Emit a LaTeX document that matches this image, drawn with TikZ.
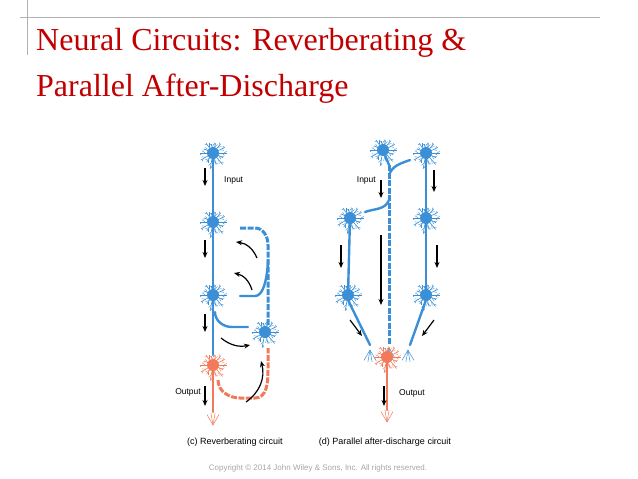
\documentclass[tikz,border=0pt]{standalone}
\usepackage{fontspec}
\setmainfont{Liberation Serif}
\newfontfamily\sans{Liberation Sans}
\usetikzlibrary{arrows.meta}
\definecolor{nblue}{HTML}{3A8FD6}
\definecolor{nred}{HTML}{F07A5A}
\definecolor{ttl}{HTML}{C00000}
\tikzset{
 axon/.style={line width=2.4pt,line cap=round},
 axdash/.style={line width=3pt,dash pattern=on 6pt off 1.5pt},
 flow/.style={-{Stealth[length=6pt,width=5pt]},line width=1.2pt,black},
 lbl/.style={font=\sans\fontsize{8.5}{10}\selectfont,inner sep=1pt},
 captext/.style={font=\sans\fontsize{9}{11}\selectfont,inner sep=1pt},
 neuron/.pic={
  \foreach \a/\l in {0/14,25/11,50/15,75/12,100/16,125/11,150/14,180/13,205/10,235/12,260/9,285/10,310/12,335/13}{
   \draw[line width=0.6pt] (0,0) -- (\a:\l);
   \draw[line width=0.4pt] (\a:0.6*\l) -- ++(\a+35:4);
   \draw[line width=0.4pt] (\a:0.8*\l) -- ++(\a-35:3);}
  \fill (0,0) circle (6pt);
 },
 tuft/.pic={\foreach \a in {60,80,100,120}{\draw[line width=0.5pt] (0,0) -- (\a:12);}}
}
\begin{document}
\begin{tikzpicture}[x=1pt,y=-1pt]
\useasboundingbox (0,0) rectangle (638,479);
\draw[gray!60,line width=0.7pt] (20,17) -- (600,17);
\draw[gray!60,line width=0.7pt] (27,0) -- (27,55);
\node[anchor=west,text=ttl,font=\fontsize{32}{36}\selectfont,inner sep=0] (t1) at (36,43) {Neural Circuits: Reverberating \&};
\node[anchor=west,text=ttl,font=\fontsize{32}{36}\selectfont,inner sep=0] (t2) at (36,89) {Parallel After-Discharge};

% ---------- left circuit (c)
\begin{scope}[nblue]
\draw[axon] (213,153) -- (213,355);
\draw[axdash] (268,325) -- (268,245) to[out=90,in=0] (255,228) -- (240,228);
\draw[axon] (268,262) to[out=90,in=0] (255,296) -- (240,296);
\draw[axon] (215,312) to[out=-90,in=180] (232,327) -- (248,327);
\pic at (213,153) {neuron}; \pic at (213,222) {neuron}; \pic at (213,295) {neuron}; \pic at (265,332) {neuron};
\end{scope}
\node (c1) at (213,153) {}; \node (c2) at (213,222) {}; \node (c3) at (213,295) {}; \node (c4) at (265,332) {};
\begin{scope}[nred]
\draw[axon] (213,365) -- (213,412);
\draw[axdash] (218,380) to[out=-90,in=180] (240,398) -- (255,398) to[out=0,in=-90] (268,370) -- (268,348);
\pic at (213,365) {neuron};
\pic[rotate=180] at (213,425) {tuft};
\end{scope}
\node (c5) at (213,365) {};
\draw[flow] (205,168) -- (205,186);
\draw[flow] (205,240) -- (205,258);
\draw[flow] (205,314) -- (205,332);
\draw[flow] (205,386) -- (205,406);
\draw[flow] (257,258) to[bend right=30] (236,242);
\draw[flow] (252,290) to[bend right=30] (234,273);
\draw[flow] (221,338) to[bend right=25] (250,345);
\draw[flow] (246,402) to[bend right=35] (261,361);
\node[lbl,anchor=west] (in1) at (223,180) {Input};
\node[lbl,anchor=east] (out1) at (202,392) {Output};
\node[captext] (capc) at (235,442) {(c) Reverberating circuit};

% ---------- right circuit (d)
\begin{scope}[nblue]
\draw[axdash] (389,165) -- (389,345);
\draw[axon] (383,150) -- (389,165);
\draw[axon] (389,200) to[out=-110,in=20] (365,212);
\draw[axon] (389,175) to[out=70,in=200] (410,160);
\draw[axon] (426,153) -- (426,218) -- (426,295);
\draw[axon] (350,218) -- (348,295);
\draw[axon] (348,300) -- (370,345);
\draw[axon] (426,300) -- (410,345);
\pic at (383,150) {neuron}; \pic at (426,153) {neuron}; \pic at (350,218) {neuron};
\pic at (426,218) {neuron}; \pic at (348,295) {neuron}; \pic at (426,295) {neuron};
\pic at (370,350) {tuft}; \pic at (389,348) {tuft}; \pic at (408,350) {tuft};
\end{scope}
\begin{scope}[nred]
\draw[axon] (387,357) -- (387,410);
\pic at (387,357) {neuron};
\pic[rotate=180] at (387,422) {tuft};
\end{scope}
\node (d1) at (383,150) {};
\draw[flow] (381,180) -- (381,198);
\draw[flow] (434,170) -- (434,192);
\draw[flow] (341,245) -- (341,268);
\draw[flow] (437,245) -- (437,268);
\draw[flow] (381,235) -- (381,305);
\draw[flow] (350,320) -- (362,336);
\draw[flow] (434,320) -- (422,336);
\draw[flow] (384,386) -- (384,406);
\node[lbl,anchor=east] (in2) at (377,180) {Input};
\node[lbl,anchor=west] (out2) at (398,393) {Output};
\node[captext] (capd) at (385,442) {(d) Parallel after-discharge circuit};

\node[font=\sans\fontsize{8}{10}\selectfont,text=gray!70] (copy) at (318,468) {Copyright \textcopyright{} 2014 John Wiley \& Sons, Inc. All rights reserved.};
\end{tikzpicture}
\end{document}
